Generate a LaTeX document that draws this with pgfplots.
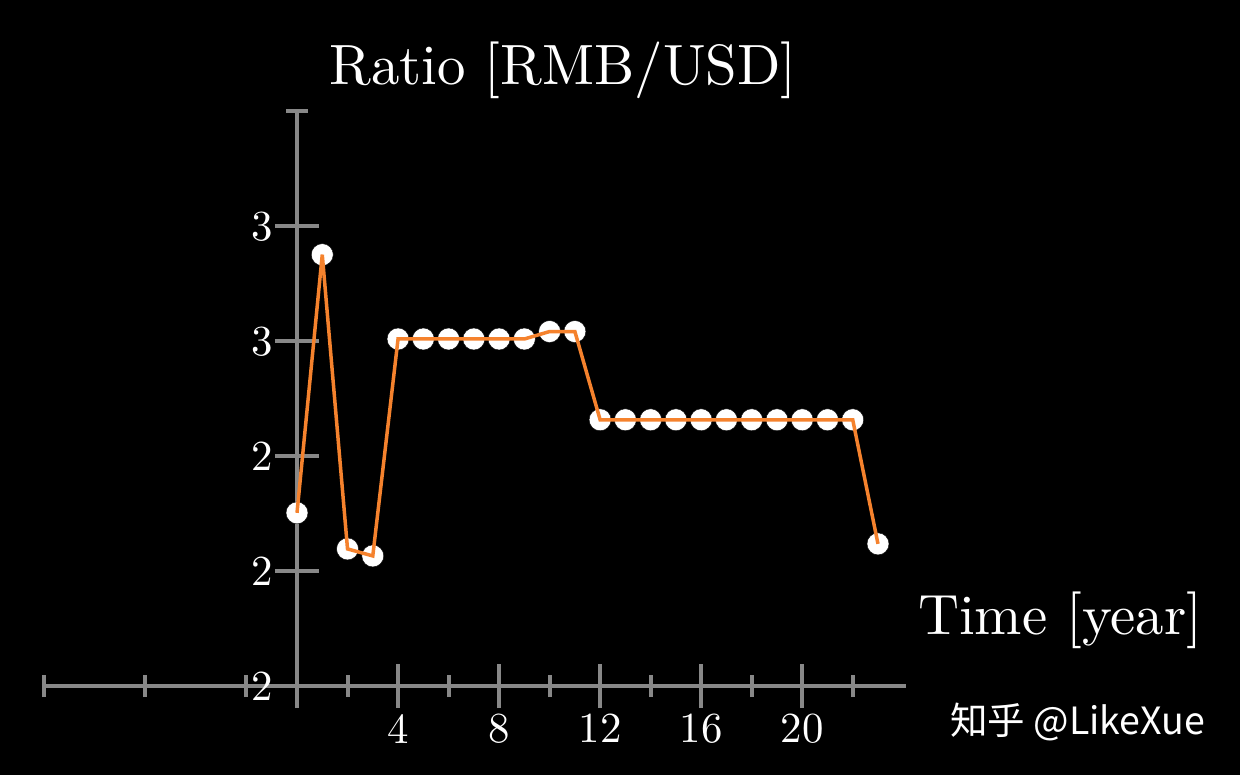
\documentclass[border=0pt]{standalone}
\usepackage{fontspec}
\usepackage{pgfplots}
\pgfplotsset{compat=1.18}
\usepackage{pgfplotstable}
\newfontfamily\cjk{Noto Sans CJK SC}
\definecolor{axisgray}{RGB}{136,136,136}
\definecolor{lineorange}{RGB}{245,130,45}
\newcommand{\tl}[1]{\scalebox{4.3}{#1}}

% year, value in axis units (one y unit = one tick step)
\pgfplotstableread{
year ratio
0  1.507
1  3.754
2  1.193
3  1.132
4  3.020
5  3.020
6  3.020
7  3.020
8  3.020
9  3.020
10 3.085
11 3.085
12 2.317
13 2.317
14 2.317
15 2.317
16 2.317
17 2.317
18 2.317
19 2.317
20 2.317
21 2.317
22 2.317
23 1.237
}\ratiodata

\pgfplotsset{frame/.style={
    x=25.26bp, y=114.9bp,
    anchor=origin, at={(297bp,89bp)},
    xmin=-10.1, xmax=24.1,
    ymin=0, ymax=5,
    clip=false,
}}

\begin{document}
\begin{tikzpicture}
\fill[black] (0,0) rectangle (1240bp,775bp);
\begin{axis}[
    frame,
    axis lines=middle,
    axis line style={-, draw=axisgray, line width=4bp},
    tick style={draw=axisgray, line width=4bp},
    tick align=center,
    major tick length=44bp,
    minor tick length=22bp,
    hide obscured x ticks=false,
    hide obscured y ticks=false,
    xtick={0,4,8,12,16,20},
    xticklabels={{},\tl{4},\tl{8},\tl{12},\tl{16},\tl{20}},
    minor xtick={-10,-6,-2,2,6,10,14,18,22},
    ytick={0,1,2,3,4},
    yticklabels={\tl{2},\tl{2},\tl{2},\tl{3},\tl{3}},
    minor ytick={5},
    ticklabel style={text=white, inner sep=0pt},
    xticklabel style={anchor=north, yshift=-6bp},
    yticklabel style={anchor=east, xshift=-2bp},
]
\addplot[only marks, mark=*, mark size=11bp,
    mark options={draw=none, fill=white}] table[x=year, y=ratio] {\ratiodata};
\end{axis}
% the orange line lies over the dots
\begin{axis}[frame, hide axis]
\addplot[lineorange, line width=3.5bp, no marks]
    table[x=year, y=ratio] {\ratiodata};
\end{axis}
\node[anchor=base, text=white, inner sep=0pt] at (563bp,690bp)
    {\scalebox{5.7}{Ratio [RMB/USD]}};
\node[anchor=base west, text=white, inner sep=0pt] at (918bp,140bp)
    {\scalebox{5.7}{Time [year]}};
\node[anchor=base west, text=white, inner sep=0pt] at (950bp,40bp)
    {\fontsize{37.5bp}{40bp}\selectfont\cjk 知乎 @LikeXue};
\pgfresetboundingbox
\path[use as bounding box] (0,0) rectangle (1240bp,775bp);
\end{tikzpicture}
\end{document}
